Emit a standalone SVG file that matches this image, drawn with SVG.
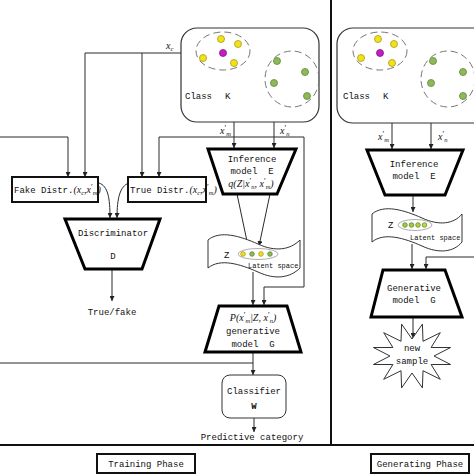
<svg xmlns="http://www.w3.org/2000/svg" width="474" height="474" viewBox="0 0 474 474">
<style>
.ln{stroke:#2a2a2a;stroke-width:1;fill:none}
.dash{stroke:#777;stroke-width:1;fill:none;stroke-dasharray:7,4}
.trap{fill:#fff;stroke:#000;stroke-width:3}
.box{fill:#fff;stroke:#111;stroke-width:2}
.cls{fill:#fff;stroke:#333;stroke-width:1.2}
.t{font-family:"Liberation Mono","DejaVu Sans Mono",monospace;font-size:9px;fill:#111}
.m{font-family:"Liberation Serif","DejaVu Serif",serif;font-style:italic;font-size:10px;fill:#111}
.pr{font-size:8px;font-style:normal}
.sb{font-size:6.5px}
.y{fill:#f2e21c;stroke:#a89a10;stroke-width:0.8}
.g{fill:#8fb85a;stroke:#5f8a35;stroke-width:0.8}
.p{fill:#c21fc2;stroke:#8a108a;stroke-width:0.8}
.sm{font-size:7px}
</style>
<defs>
<marker id="ah" viewBox="0 0 8 8" refX="8" refY="4" markerWidth="5" markerHeight="5" orient="auto"><path d="M0,0 L8,4 L0,8 z" fill="#222"/></marker>
</defs>
<rect width="474" height="474" fill="#fff"/>

<g id="frame">
<line x1="331" y1="0" x2="331" y2="445" stroke="#111" stroke-width="2"/>
<line x1="0" y1="445" x2="474" y2="445" stroke="#111" stroke-width="2"/>
</g>

<g id="connectors">
<path class="ln" d="M223,53 H85 V177" marker-end="url(#ah)"/>
<path class="ln" d="M142,53 V177" marker-end="url(#ah)"/>
<path class="ln" d="M0,137 H68 V177" marker-end="url(#ah)"/>
<path class="ln" d="M304,137 H159 V177" marker-end="url(#ah)"/>
<path class="ln" d="M304,137 V287 H264 V305" marker-end="url(#ah)"/>
<path class="ln" d="M234,63 V148" marker-end="url(#ah)"/>
<path class="ln" d="M274,83 V148" marker-end="url(#ah)"/>
<path class="dash" d="M248,57 L267,67" marker-end="url(#ah)"/>
<path class="ln" d="M237,194 L248,246" marker-end="url(#ah)"/>
<path class="ln" d="M270,194 L259,246" marker-end="url(#ah)"/>
<path class="ln" d="M253,272 V305" marker-end="url(#ah)"/>
<path class="ln" d="M0,363 H253"/>
<path class="ln" d="M253,352 V375" marker-end="url(#ah)"/>
<path class="ln" d="M254,418 V432" marker-end="url(#ah)"/>
<path class="ln" d="M99,183 C108,186 110,198 110,218" marker-end="url(#ah)"/>
<path class="ln" d="M129,183 C120,186 117,198 117,218" marker-end="url(#ah)"/>
<path class="ln" d="M112,269 V301" marker-end="url(#ah)"/>
<path class="ln" d="M392,63 V149" marker-end="url(#ah)"/>
<path class="ln" d="M431,83 V149" marker-end="url(#ah)"/>
<path class="dash" d="M405,57 L423,67" marker-end="url(#ah)"/>
<path class="ln" d="M463,72 H474"/>
<path class="ln" d="M413,195 V212" marker-end="url(#ah)"/>
<path class="ln" d="M412,244 V269" marker-end="url(#ah)"/>
<path class="ln" d="M474,257 H426 V269" marker-end="url(#ah)"/>
<path class="ln" d="M413,317 V338" marker-end="url(#ah)"/>
</g>

<g id="classK-train">
<rect class="cls" x="181" y="28" width="138" height="94" rx="16"/>
<ellipse class="dash" cx="223" cy="51" rx="27" ry="19"/>
<ellipse class="dash" cx="292" cy="79" rx="27" ry="28"/>
<circle class="y" cx="221" cy="39" r="3.5"/>
<circle class="y" cx="238" cy="44" r="3.5"/>
<circle class="y" cx="203" cy="58" r="3.5"/>
<circle class="y" cx="234" cy="63" r="3.5"/>
<circle class="p" cx="223" cy="53" r="3.5"/>
<circle class="g" cx="277" cy="61" r="3.5"/>
<circle class="g" cx="305" cy="72" r="3.5"/>
<circle class="g" cx="274" cy="83" r="3.5"/>
<circle class="g" cx="307" cy="96" r="3.5"/>
<text class="t" x="185" y="99">Class</text>
<text class="t" x="225" y="99">K</text>
</g>
<g id="labels-train">
<text class="m" x="166" y="49">x<tspan class="sb" dy="2">c</tspan></text>
<text class="m" x="220" y="134">x<tspan class="pr" dy="-3">′</tspan><tspan class="sb" dy="5">m</tspan></text>
<text class="m" x="280" y="134">x<tspan class="pr" dy="-3">′</tspan><tspan class="sb" dy="5">n</tspan></text>
</g>

<g id="inference-train">
<polygon class="trap" points="208,149 296,149 277,194 223,194"/>
<text class="t" x="252" y="162" text-anchor="middle">Inference</text>
<text class="t" x="252" y="174" text-anchor="middle" xml:space="preserve">model  E</text>
<text class="m" x="251" y="187" text-anchor="middle">q(Z|x<tspan class="pr" dy="-3">′</tspan><tspan class="sb" dy="5">n</tspan><tspan dy="-2">, x</tspan><tspan class="pr" dy="-3">′</tspan><tspan class="sb" dy="5">m</tspan><tspan dy="-2">)</tspan></text>
</g>

<g id="latent-train">
<path d="M208,240 C220,230 240,236 258,244 C275,252 290,250 300,240 L300,268 C290,278 275,280 258,272 C240,264 220,258 208,268 Z" fill="#fff" stroke="#333" stroke-width="1"/>
<text class="t" x="224" y="258">Z</text>
<ellipse cx="258" cy="254" rx="20" ry="5.5" fill="#fff" stroke="#999" stroke-width="0.8"/>
<circle class="y" cx="243" cy="254" r="2.3"/>
<circle class="g" cx="252" cy="254" r="2.3"/>
<circle class="y" cx="261" cy="254" r="2.3"/>
<circle class="g" cx="270" cy="254" r="2.3"/>
<text class="t sm" x="248" y="268">Latent space</text>
</g>

<g id="generative-train">
<polygon class="trap" points="219,306 287,306 301,352 205,352"/>
<text class="m" x="253" y="321" text-anchor="middle">P(x<tspan class="pr" dy="-3">′</tspan><tspan class="sb" dy="5">m</tspan><tspan dy="-2">|Z, x</tspan><tspan class="pr" dy="-3">′</tspan><tspan class="sb" dy="5">n</tspan><tspan dy="-2">)</tspan></text>
<text class="t" x="253" y="334" text-anchor="middle">generative</text>
<text class="t" x="253" y="347" text-anchor="middle" xml:space="preserve">model  G</text>
</g>

<g id="classifier">
<rect x="222" y="375" width="64" height="43" rx="8" fill="#fff" stroke="#333" stroke-width="1"/>
<text class="t" x="254" y="394" text-anchor="middle" font-size="9.5">Classifier</text>
<text class="t" x="254" y="409" text-anchor="middle" font-weight="bold">W</text>
<text class="t" x="252" y="440" text-anchor="middle">Predictive category</text>
</g>

<g id="fake">
<rect class="box" x="12" y="177" width="86" height="25"/>
<text class="t" x="14" y="193" font-size="8">Fake Distr.<tspan class="m" font-size="8.5">(x</tspan><tspan class="m sb" font-size="5.5" dy="2">c</tspan><tspan class="m" font-size="8.5" dy="-2">,x</tspan><tspan class="m pr" font-size="6.5" dy="-3">′</tspan><tspan class="m sb" font-size="5.5" dy="5">m</tspan><tspan class="m" font-size="8.5" dy="-2">)</tspan></text>
</g>
<g id="true">
<rect class="box" x="128" y="177" width="78" height="25"/>
<text class="t" x="130" y="193" font-size="8">True Distr.<tspan class="m" font-size="8.5">(x</tspan><tspan class="m sb" font-size="5.5" dy="2">c</tspan><tspan class="m" font-size="8.5" dy="-2">,x</tspan><tspan class="m pr" font-size="6.5" dy="-3">′</tspan><tspan class="m sb" font-size="5.5" dy="5">m</tspan><tspan class="m" font-size="8.5" dy="-2">)</tspan></text>
</g>

<g id="discriminator">
<polygon class="trap" points="65,219 160,219 142,269 85,269"/>
<text class="t" x="113" y="236" text-anchor="middle">Discriminator</text>
<text class="t" x="113" y="259" text-anchor="middle" font-size="10.5">D</text>
<text class="t" x="112" y="315" text-anchor="middle">True/fake</text>
</g>

<g id="classK-gen">
<rect class="cls" x="337" y="28" width="160" height="95" rx="16"/>
<ellipse class="dash" cx="380" cy="51" rx="27" ry="19"/>
<ellipse class="dash" cx="448" cy="79" rx="27" ry="28"/>
<circle class="y" cx="378" cy="39" r="3.5"/>
<circle class="y" cx="394" cy="44" r="3.5"/>
<circle class="y" cx="361" cy="58" r="3.5"/>
<circle class="y" cx="392" cy="63" r="3.5"/>
<circle class="p" cx="380" cy="53" r="3.5"/>
<circle class="g" cx="433" cy="61" r="3.5"/>
<circle class="g" cx="463" cy="72" r="3.5"/>
<circle class="g" cx="431" cy="83" r="3.5"/>
<circle class="g" cx="463" cy="96" r="3.5"/>
<text class="t" x="343" y="99">Class</text>
<text class="t" x="383" y="99">K</text>
<text class="m" x="378" y="140">x<tspan class="pr" dy="-3">′</tspan><tspan class="sb" dy="5">m</tspan></text>
<text class="m" x="438" y="140">x<tspan class="pr" dy="-3">′</tspan><tspan class="sb" dy="5">n</tspan></text>
</g>

<g id="inference-gen">
<polygon class="trap" points="367,150 463,150 445,195 385,195"/>
<text class="t" x="414" y="167" text-anchor="middle">Inference</text>
<text class="t" x="414" y="179" text-anchor="middle" xml:space="preserve">model  E</text>
</g>

<g id="latent-gen">
<path d="M372,214 C384,204 404,210 422,218 C439,226 454,224 462,214 L462,242 C454,252 439,254 422,246 C404,238 384,232 372,242 Z" fill="#fff" stroke="#333" stroke-width="1"/>
<text class="t" x="388" y="228">Z</text>
<ellipse cx="415" cy="225" rx="17" ry="5.5" fill="#fff" stroke="#999" stroke-width="0.8"/>
<circle class="g" cx="405" cy="225" r="2.3" style="fill:#a8c83a"/>
<circle class="g" cx="411.5" cy="225" r="2.3" style="fill:#a8c83a"/>
<circle class="g" cx="418" cy="225" r="2.3" style="fill:#b8d03a"/>
<circle class="g" cx="424.5" cy="225" r="2.3" style="fill:#c8d83a"/>
<text class="t sm" x="410" y="240">Latent space</text>
</g>

<g id="generative-gen">
<polygon class="trap" points="383,270 445,270 462,317 371,317"/>
<text class="t" x="414" y="291" text-anchor="middle">Generative</text>
<text class="t" x="414" y="303" text-anchor="middle" xml:space="preserve">model  G</text>
</g>

<g id="new-sample">
<polygon points="412,339 422.4,324.1 423,341.3 440.3,332.7 431.1,347.5 450.6,347.5 434,356 450.6,364.5 431.1,364.5 440.3,379.3 423,370.7 422.4,387.9 412,373 401.6,387.9 401,370.7 383.7,379.3 392.9,364.5 373.4,364.5 390,356 373.4,347.5 392.9,347.5 383.7,332.7 401,341.3 401.6,324.1" fill="#fff" stroke="#333" stroke-width="1"/>
<text class="t" x="412" y="351" text-anchor="middle">new</text>
<text class="t" x="412" y="364" text-anchor="middle">sample</text>
</g>

<g id="phase-labels">
<rect x="97" y="454" width="98" height="19" fill="#fff" stroke="#111" stroke-width="2"/>
<text class="t" x="146" y="467" text-anchor="middle">Training Phase</text>
<rect x="371" y="454" width="98" height="19" fill="#fff" stroke="#111" stroke-width="2"/>
<text class="t" x="420" y="467" text-anchor="middle">Generating Phase</text>
</g>
</svg>
